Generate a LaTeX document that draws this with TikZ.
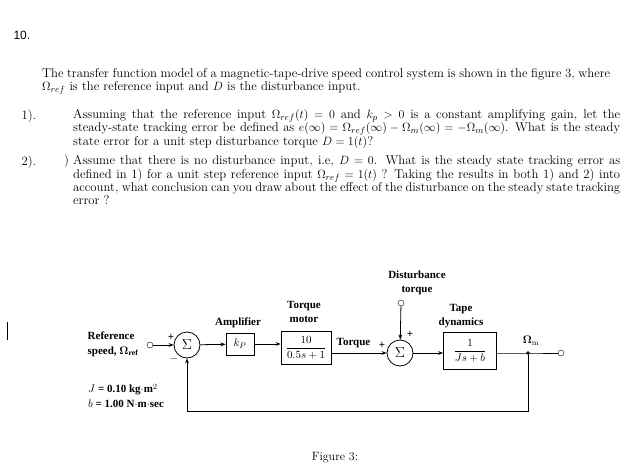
\documentclass[tikz,border=0pt]{standalone}
\usepackage{fontspec}
\usepackage{amsmath}
\newfontfamily\dgf{Liberation Serif}
\newfontfamily\numf{Liberation Sans}
\usetikzlibrary{arrows.meta}
\begin{document}
\begin{tikzpicture}[x=1pt,y=-1pt,
  blk/.style={draw,thick,fill=white,font=\dgf\bfseries\fontsize{11}{12}\selectfont,inner sep=1pt},
  sumc/.style={draw,thick,circle,minimum size=26pt,inner sep=0pt,font=\dgf\bfseries\Large},
  term/.style={draw,circle,minimum size=6pt,inner sep=0pt,fill=white},
  lab/.style={font=\dgf\bfseries\fontsize{11}{12}\selectfont,align=center,inner sep=0pt},
  sig/.style={thick,-{Stealth[length=5pt]}},
  ptxt/.style={align=justify,anchor=north west,inner sep=0pt,font=\fontsize{12.7}{13.4}\selectfont}]
\useasboundingbox (0,0) rectangle (634,465);
\node[font=\numf\fontsize{12}{14}\selectfont,anchor=west] (ten) at (10,35) {10.};
\node[ptxt,text width=568pt] (intro) at (42,68) {The transfer function model of a magnetic-tape-drive speed control system is shown in the figure 3, where $\Omega_{ref}$ is the reference input and $D$ is the disturbance input.};
\node[font=\fontsize{12.7}{13}\selectfont,anchor=west] (i1) at (18,116) {1).};
\node[ptxt,text width=547pt] (t1) at (73,109) {Assuming that the reference input $\Omega_{ref}(t)=0$ and $k_p>0$ is a constant amplifying gain, let the steady-state tracking error be defined as $e(\infty)=\Omega_{ref}(\infty)-\Omega_m(\infty)=-\Omega_m(\infty)$. What is the steady state error for a unit step disturbance torque $D=1(t)$?};
\node[font=\fontsize{12.7}{13}\selectfont,anchor=west] (i2) at (18,162) {2).};
\node[ptxt,text width=547pt] (t2) at (73,155) {\llap{) }Assume that there is no disturbance input, i.e, $D=0$. What is the steady state tracking error as defined in 1) for a unit step reference input $\Omega_{ref}=1(t)$ ? Taking the results in both 1) and 2) into account, what conclusion can you draw about the effect of the disturbance on the steady state tracking error ?};
\draw (7,322) -- (7,340);
% diagram
\node[term] (in) at (150,345) {};
\node[lab,align=left] (reflab) at (113,344) {Reference\\[3pt] speed, $\boldsymbol{\Omega}_{\text{ref}}$};
\node[sumc] (s1) at (187,345) {$\Sigma$};
\node[blk,minimum width=28pt,minimum height=22pt] (amp) at (240,344) {$k_P$};
\node[lab] (amplab) at (238,323) {Amplifier};
\node[blk,minimum width=50pt,minimum height=33pt] (mot) at (306,348) {$\dfrac{10}{0.5s+1}$};
\node[lab] (motlab) at (304,312) {Torque\\[2pt] motor};
\node[sumc] (s2) at (400,353) {$\Sigma$};
\node[term] (dist) at (401,303) {};
\node[lab] (distlab) at (417,283) {Disturbance\\[2pt] torque};
\node[blk,minimum width=53pt,minimum height=37pt] (tape) at (470,351) {$\dfrac{1}{Js+b}$};
\node[lab] (tapelab) at (461,316) {Tape\\[2pt] dynamics};
\coordinate (jn) at (528,353);
\node[term] (out) at (561,353) {};
\node[lab] (om) at (531,341) {$\boldsymbol{\Omega}_{\mathrm{m}}$};
\coordinate (fb1) at (528,411);
\coordinate (fb2) at (187,411);
\draw[sig] (in) -- (s1);
\draw[sig] (s1) -- (amp);
\draw[sig] (amp) -- (mot.west|-amp);
\draw[sig] (mot.east|-s2) -- node[lab,above=5pt,pos=0.4]{Torque} (s2);
\draw[sig] (dist) -- (s2);
\draw[sig] (s2) -- (tape.west|-s2);
\draw[thick] (tape.east|-jn) -- (jn) -- (out);
\fill (jn) circle (1.8pt);
\draw[sig] (jn) -- (fb1) -- (fb2) -- (s1);
\node[lab] at (171,337) {+};
\node[lab] at (174,359) {$-$};
\node[lab] at (382,345) {+};
\node[lab] at (410,334) {+};
\node[lab,align=left,anchor=west] (jb) at (88,396) {$J$ = 0.10 kg$\cdot$m$^2$\\[3pt] $b$ = 1.00 N$\cdot$m$\cdot$sec};
\node[font=\fontsize{12}{14}\selectfont] (fig) at (335,458) {Figure 3:};
\end{tikzpicture}
\end{document}
